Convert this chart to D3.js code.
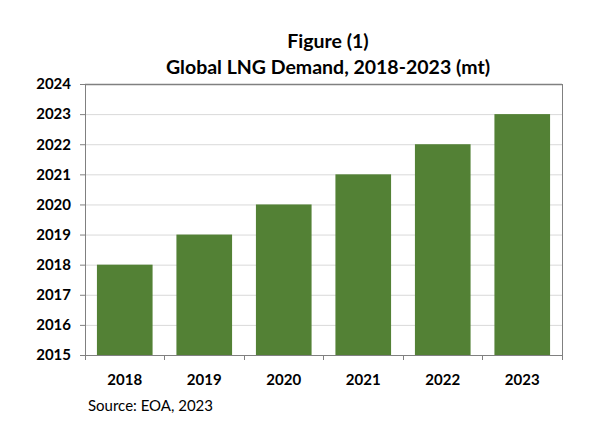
<!DOCTYPE html>
<html>
<head>
<meta charset="utf-8">
<script src="https://cdn.jsdelivr.net/npm/d3@7"></script>
<style>
  body { margin: 0; background: #fff; }
  text { font-family: Lato, "Open Sans", sans-serif; fill: #000; }
</style>
</head>
<body>
<div id="chart"></div>
<script>
var categories = ["2018", "2019", "2020", "2021", "2022", "2023"];
var demand = [2018, 2019, 2020, 2021, 2022, 2023];
var yTicks = [2015, 2016, 2017, 2018, 2019, 2020, 2021, 2022, 2023, 2024];
var titleLines = ["Figure (1)", "Global LNG Demand, 2018-2023 (mt)"];
var sourceNote = "Source: EOA, 2023";

var width = 600, height = 437;
var margin = {top: 84, right: 38, bottom: 82, left: 85};
var plotW = width - margin.left - margin.right;
var plotH = height - margin.top - margin.bottom;

var svg = d3.select("#chart").append("svg")
	.attr("width", width)
	.attr("height", height);

var x = d3.scaleBand()
	.domain(categories)
	.range([0, plotW])
	.paddingInner(0.3)
	.paddingOuter(0.15);

var y = d3.scaleLinear()
	.domain([2015, 2024])
	.range([plotH, 0]);

var g = svg.append("g")
	.attr("transform", "translate(" + margin.left + "," + margin.top + ")");

// gridlines
g.append("g")
	.selectAll("line")
	.data(yTicks.slice(1, -1))
	.enter().append("line")
		.attr("x1", 0)
		.attr("x2", plotW)
		.attr("y1", function(d) { return y(d) + 0.5; })
		.attr("y2", function(d) { return y(d) + 0.5; })
		.attr("stroke", "#d9d9d9")
		.attr("stroke-width", 1);

// bars
g.append("g")
	.selectAll("rect")
	.data(demand)
	.enter().append("rect")
		.attr("x", function(d, i) { return x(categories[i]); })
		.attr("y", function(d) { return y(d); })
		.attr("width", x.bandwidth())
		.attr("height", function(d) { return plotH - y(d); })
		.attr("fill", "#538135");

// top and right border
g.append("line")
	.attr("x1", 0).attr("x2", plotW)
	.attr("y1", 0.5).attr("y2", 0.5)
	.attr("stroke", "#808080")
	.attr("stroke-width", 1.5);
g.append("line")
	.attr("x1", plotW + 0.5).attr("x2", plotW + 0.5)
	.attr("y1", 0).attr("y2", plotH)
	.attr("stroke", "#808080")
	.attr("stroke-width", 1);

// y axis
var yAxis = g.append("g")
	.call(d3.axisLeft(y).tickValues(yTicks).tickFormat(d3.format("d")).tickSize(5).tickPadding(9));
yAxis.select(".domain").attr("stroke", "#808080");
yAxis.selectAll(".tick line").attr("stroke", "#808080");
yAxis.selectAll("text")
	.attr("font-size", 15)
	.attr("font-weight", "bold")
	.attr("font-family", "Lato, sans-serif");

// x axis with ticks between categories
var xAxis = g.append("g")
	.attr("transform", "translate(0," + plotH + ")");
xAxis.append("line")
	.attr("x1", 0).attr("x2", plotW)
	.attr("y1", 0.5).attr("y2", 0.5)
	.attr("stroke", "#808080");
var edges = categories.map(function(c) { return x(c) - x.step() * x.paddingInner() / 2; });
edges.push(plotW);
xAxis.selectAll(".xtick")
	.data(edges)
	.enter().append("line")
		.attr("class", "xtick")
		.attr("x1", function(d) { return Math.round(d) + 0.5; })
		.attr("x2", function(d) { return Math.round(d) + 0.5; })
		.attr("y1", 0)
		.attr("y2", 5)
		.attr("stroke", "#808080");
xAxis.selectAll(".xlabel")
	.data(categories)
	.enter().append("text")
		.attr("class", "xlabel")
		.attr("x", function(d) { return x(d) + x.bandwidth() / 2; })
		.attr("y", 30)
		.attr("text-anchor", "middle")
		.attr("font-size", 15)
		.attr("font-weight", "bold")
		.text(function(d) { return d; });

// title
svg.selectAll(".title")
	.data(titleLines)
	.enter().append("text")
		.attr("class", "title")
		.attr("x", 328)
		.attr("y", function(d, i) { return 48 + i * 26; })
		.attr("text-anchor", "middle")
		.attr("font-size", 19.5)
		.attr("font-weight", "bold")
		.text(function(d) { return d; });

// source
svg.append("text")
	.attr("x", 88)
	.attr("y", 411)
	.attr("font-size", 15)
	.text(sourceNote);
</script>
</body>
</html>
